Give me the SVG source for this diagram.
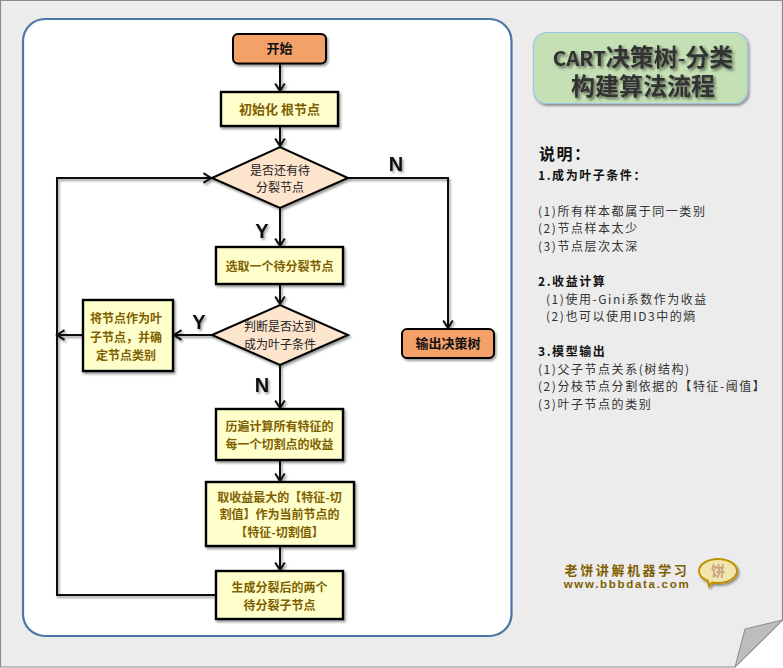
<svg xmlns="http://www.w3.org/2000/svg" width="783" height="668" viewBox="0 0 783 668">
<style>
text{font-family:"Noto Sans CJK SC","Liberation Sans",sans-serif;text-anchor:middle}
.box{fill:#ffffcc;stroke:#000;stroke-width:2.4;filter:url(#sh)}
.term{fill:#f4a069;stroke:#000;stroke-width:2;filter:url(#sh)}
.dia{fill:#fde4cd;stroke:#000;stroke-width:2;filter:url(#sh)}
.bt{font-size:12px;font-weight:700;fill:#7f6000}
.tt{font-size:13px;font-weight:700;fill:#111}
.dt{font-size:12px;fill:#222}
.yn{font-family:"Liberation Sans",sans-serif;font-size:20px;font-weight:700;fill:#111}
.con{fill:none;stroke:#111;stroke-width:2}
.note{text-anchor:start;font-size:12px;fill:#333;letter-spacing:1.55px}
.noteb{text-anchor:start;font-size:12px;font-weight:700;fill:#111;letter-spacing:1.55px}
.ttl{font-size:24px;font-weight:700;fill:#333;filter:url(#tsh)}
.lat{font-size:20.500px}
</style>
<defs>
<filter id="sh" x="-20%" y="-20%" width="145%" height="145%"><feDropShadow dx="1.5" dy="2" stdDeviation="1.2" flood-color="#000" flood-opacity=".4"/></filter>
<filter id="shu" filterUnits="userSpaceOnUse" x="0" y="0" width="783" height="668"><feDropShadow dx="1.5" dy="2" stdDeviation="1.2" flood-color="#000" flood-opacity=".4"/></filter>
<filter id="tsh" x="-10%" y="-20%" width="125%" height="150%"><feDropShadow dx="2" dy="2" stdDeviation="1.6" flood-color="#000" flood-opacity=".55"/></filter>
<marker id="arr" markerUnits="userSpaceOnUse" markerWidth="14" markerHeight="14" refX="11" refY="7" orient="auto"><path d="M3.500 2.200L11 7L3.500 11.800" fill="none" stroke="#111" stroke-width="2"/></marker>
</defs>
<rect width="783" height="668" fill="#fff"/>
<path id="page" d="M.5 .5H782.5V620L735 667H.5Z" fill="#ececec" stroke="#8c8c8c" stroke-width="1.2"/>
<path id="fold" d="M735 667L745 629L782.5 620Z" fill="#bdbdbd" stroke="#8c8c8c" stroke-width="1"/>
<rect id="panel" x="23" y="19" width="488.500" height="617" rx="22" fill="#fff" stroke="#4a76a8" stroke-width="2.200"/>
<g id="connectors" filter="url(#shu)">
<path class="con" marker-end="url(#arr)" d="M280 64V91"/>
<path class="con" marker-end="url(#arr)" d="M280 127V146"/>
<path class="con" marker-end="url(#arr)" d="M280 208V246"/>
<path class="con" marker-end="url(#arr)" d="M280 285V304"/>
<path class="con" marker-end="url(#arr)" d="M280 365V408"/>
<path class="con" marker-end="url(#arr)" d="M280 461V481"/>
<path class="con" marker-end="url(#arr)" d="M280 547V570"/>
<path class="con" marker-end="url(#arr)" d="M348 178H448V328"/>
<path class="con" marker-end="url(#arr)" d="M212 335H174"/>
<path class="con" marker-end="url(#arr)" d="M83 335H57"/>
<path class="con" marker-end="url(#arr)" d="M216 595H57V178H211"/>
<text class="yn" x="396" y="171">N</text>
<text class="yn" x="262" y="238">Y</text>
<text class="yn" x="199" y="329">Y</text>
<text class="yn" x="262" y="392">N</text>
</g>
<g id="start"><rect class="term" x="233" y="34" width="93" height="29.500" rx="5"/><text class="tt" x="279.500" y="53">开始</text></g>
<g id="init"><rect class="box" x="221" y="92" width="117" height="34"/><text class="bt" x="279.500" y="114" style="font-size:13px">初始化 根节点</text></g>
<g id="has-nodes"><path class="dia" d="M212 178L280 147L348 178L280 208Z"/><text class="dt" x="280" y="175">是否还有待</text><text class="dt" x="280" y="192">分裂节点</text></g>
<g id="pick"><rect class="box" x="216" y="247" width="127" height="37"/><text class="bt" x="279.500" y="271">选取一个待分裂节点</text></g>
<g id="is-leaf"><path class="dia" d="M212 335L280 305L348 335L280 365Z"/><text class="dt" x="280" y="331">判断是否达到</text><text class="dt" x="280" y="349">成为叶子条件</text></g>
<g id="leaf"><rect class="box" x="83" y="300" width="90" height="71"/><text class="bt" x="126" y="323">将节点作为叶</text><text class="bt" x="126" y="342">子节点，并确</text><text class="bt" x="126" y="360">定节点类别</text></g>
<g id="output"><rect class="term" x="402" y="329" width="92" height="29" rx="5"/><text class="tt" x="448" y="348">输出决策树</text></g>
<g id="traverse"><rect class="box" x="216" y="409" width="127" height="51"/><text class="bt" x="279.500" y="431">历遍计算所有特征的</text><text class="bt" x="279.500" y="449">每一个切割点的收益</text></g>
<g id="best"><rect class="box" x="206" y="482" width="148" height="64"/><text class="bt" x="279.500" y="502">取收益最大的【特征-切</text><text class="bt" x="279.500" y="519">割值】作为当前节点的</text><text class="bt" x="279.500" y="537">【特征-切割值】</text></g>
<g id="gen"><rect class="box" x="216" y="571" width="127" height="48"/><text class="bt" x="279.500" y="592">生成分裂后的两个</text><text class="bt" x="279.500" y="610">待分裂子节点</text></g>
<g id="title"><rect x="533.500" y="32.500" width="214" height="71" rx="13" fill="#c5e0b4" stroke="#9dc3e6" stroke-width="1.200" filter="url(#sh)"/>
<text class="ttl" x="643" y="66"><tspan class="lat">CART</tspan>决策树<tspan class="lat">-</tspan>分类</text><text class="ttl" x="643" y="95">构建算法流程</text></g>
<g id="notes">
<text class="noteb" x="539" y="160" style="font-size:16px;letter-spacing:1.500px">说明：</text>
<text class="noteb" x="538" y="180">1.成为叶子条件：</text>
<text class="note" x="538" y="216">(1)所有样本都属于同一类别</text>
<text class="note" x="538" y="233">(2)节点样本太少</text>
<text class="note" x="538" y="251">(3)节点层次太深</text>
<text class="noteb" x="538" y="286">2.收益计算</text>
<text class="note" x="546" y="304">(1)使用-Gini系数作为收益</text>
<text class="note" x="546" y="321">(2)也可以使用ID3中的熵</text>
<text class="noteb" x="538" y="356">3.模型输出</text>
<text class="note" x="538" y="374">(1)父子节点关系(树结构)</text>
<text class="note" x="538" y="391">(2)分枝节点分割依据的【特征-阈值】</text>
<text class="note" x="538" y="409">(3)叶子节点的类别</text>
</g>
<g id="brand">
<text x="627" y="575" font-size="13px" font-weight="700" fill="#7f6000" letter-spacing="2.600">老饼讲解机器学习</text>
<text x="627" y="588" font-size="11.500px" font-weight="700" fill="#7f6000" style="font-family:'Liberation Sans',sans-serif" letter-spacing="1.700">www.bbbdata.com</text>
<path d="M718 559C728 559 737 564 737 571C737 578 728 583 718 583C716 583 714 583 712 582.500L709 586L708 581C703 579 699 575 699 571C699 564 708 559 718 559Z" fill="#f0e6ae" stroke="#bf9000" stroke-width="2" filter="url(#sh)"/>
<text x="718" y="576" font-size="14px" font-weight="700" fill="#c9a27e">饼</text>
</g>
</svg>
